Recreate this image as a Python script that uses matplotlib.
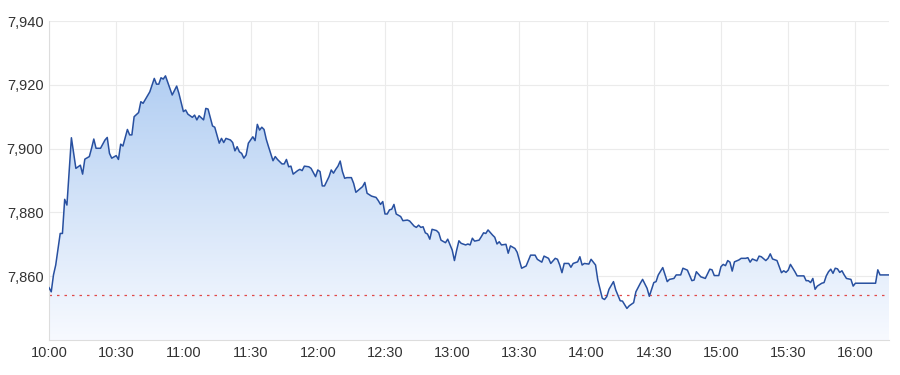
import numpy as np
import matplotlib
matplotlib.use("Agg")
from matplotlib import pyplot as plt
from matplotlib.ticker import FuncFormatter

plt.rcParams['font.family'] = ['Liberation Sans', 'DejaVu Sans']
plt.rcParams['font.size'] = 10.5

# minutes after 10:00 and index level
minutes = [0, 1, 2, 3, 5, 6, 7, 8, 10, 12, 14, 15, 16, 18, 19, 20, 21, 23, 25, 26,
           27, 28, 30, 31, 32, 33, 35, 36, 37, 38, 40, 41, 42, 45, 47, 48, 49, 50, 51, 52,
           55, 57, 58, 60, 61, 62, 64, 65, 66, 67, 69, 70, 71, 73, 74, 76, 77, 78, 79, 81,
           82, 83, 84, 85, 86, 87, 88, 89, 91, 92, 93, 94, 95, 96, 97, 98, 100, 101, 102, 104,
           105, 106, 107, 108, 109, 111, 112, 113, 114, 116, 117, 119, 120, 121, 122, 123, 125, 126, 127, 128,
           129, 130, 131, 132, 133, 135, 136, 137, 140, 141, 142, 144, 146, 147, 148, 149, 150, 151, 152, 153,
           154, 155, 157, 158, 160, 161, 163, 164, 165, 166, 167, 168, 169, 170, 171, 173, 174, 175, 177, 178,
           180, 181, 182, 183, 184, 186, 187, 188, 189, 190, 192, 193, 194, 195, 196, 198, 199, 200, 201, 202,
           204, 205, 206, 208, 209, 211, 213, 214, 215, 217, 218, 220, 221, 223, 224, 226, 227, 228, 229, 230,
           232, 233, 234, 236, 237, 238, 239, 241, 242, 244, 245, 247, 248, 249, 250, 252, 253, 255, 256, 258,
           259, 261, 262, 264, 265, 267, 268, 270, 271, 272, 274, 276, 277, 279, 280, 282, 283, 285, 287, 288,
           289, 291, 293, 295, 296, 297, 299, 300, 301, 302, 303, 304, 305, 306, 308, 309, 311, 312, 313, 314,
           315, 316, 317, 318, 320, 321, 322, 323, 325, 327, 328, 329, 330, 331, 333, 334, 337, 338, 339, 340,
           341, 342, 343, 345, 346, 347, 348, 349, 350, 351, 352, 353, 354, 355, 356, 358, 359, 360, 369, 370,
           371, 375]
level = [7856.4, 7855.1, 7860.4, 7863.5, 7873.4, 7873.4, 7884.1, 7882.3, 7903.4, 7893.8, 7894.8, 7892.0, 7896.7, 7897.5, 7900.1, 7903.0, 7900.1, 7900.1, 7902.7, 7903.5,
         7898.5, 7897.0, 7897.8, 7896.6, 7901.4, 7900.8, 7906.0, 7904.3, 7904.3, 7910.0, 7911.3, 7914.7, 7914.2, 7917.8, 7922.0, 7920.2, 7920.2, 7922.2, 7921.8, 7922.8,
         7916.8, 7919.6, 7917.3, 7911.6, 7912.1, 7910.8, 7909.8, 7910.5, 7909.0, 7910.3, 7909.0, 7912.6, 7912.4, 7907.1, 7906.7, 7901.7, 7903.2, 7901.9, 7903.2, 7902.7,
         7901.9, 7899.3, 7900.6, 7899.0, 7898.5, 7897.0, 7898.0, 7901.7, 7903.7, 7902.5, 7907.6, 7905.8, 7906.7, 7906.0, 7902.9, 7900.6, 7896.2, 7897.5, 7896.6, 7895.2,
         7895.2, 7896.6, 7894.3, 7894.5, 7892.0, 7893.1, 7893.5, 7893.1, 7894.5, 7894.3, 7893.8, 7891.2, 7893.3, 7892.8, 7888.3, 7888.3, 7891.2, 7893.3, 7892.3, 7893.5,
         7894.5, 7896.1, 7892.8, 7890.7, 7890.9, 7890.9, 7889.1, 7886.3, 7888.1, 7889.4, 7886.0, 7885.1, 7884.7, 7883.7, 7882.5, 7883.4, 7879.5, 7879.5, 7880.8, 7881.0,
         7882.5, 7879.5, 7878.7, 7877.4, 7877.6, 7877.3, 7875.7, 7875.3, 7876.0, 7875.3, 7875.5, 7873.6, 7873.2, 7871.6, 7874.7, 7874.3, 7873.6, 7871.3, 7870.5, 7871.6,
         7868.2, 7864.9, 7868.2, 7871.1, 7870.3, 7869.8, 7870.1, 7869.8, 7871.9, 7871.0, 7871.3, 7872.4, 7873.6, 7873.4, 7874.5, 7872.9, 7872.2, 7870.1, 7870.8, 7869.8,
         7870.0, 7867.2, 7869.5, 7868.7, 7867.5, 7862.5, 7863.2, 7864.9, 7866.6, 7866.6, 7865.3, 7864.4, 7866.3, 7865.6, 7864.0, 7865.6, 7865.3, 7863.5, 7861.1, 7864.0,
         7864.0, 7862.8, 7864.0, 7864.5, 7866.1, 7863.5, 7864.0, 7863.8, 7865.3, 7863.5, 7858.8, 7853.1, 7852.7, 7853.6, 7855.9, 7858.3, 7855.7, 7852.3, 7852.2, 7849.9,
         7850.7, 7851.7, 7855.1, 7857.8, 7859.0, 7856.2, 7853.7, 7858.0, 7858.3, 7860.4, 7862.7, 7858.3, 7859.0, 7859.3, 7860.4, 7860.4, 7862.5, 7861.9, 7858.6, 7858.8,
         7861.4, 7859.8, 7859.3, 7862.2, 7862.0, 7860.2, 7860.2, 7863.0, 7863.7, 7863.3, 7864.9, 7864.4, 7861.6, 7864.5, 7865.1, 7865.6, 7865.6, 7865.8, 7864.4, 7865.4,
         7865.1, 7864.8, 7866.3, 7866.1, 7864.9, 7865.6, 7867.0, 7865.4, 7864.9, 7861.1, 7861.7, 7861.2, 7861.9, 7863.7, 7861.4, 7860.1, 7860.1, 7858.6, 7858.6, 7858.0,
         7859.3, 7855.9, 7856.9, 7857.8, 7858.0, 7860.1, 7861.4, 7862.2, 7860.9, 7862.5, 7862.3, 7861.2, 7861.7, 7860.4, 7859.3, 7859.0, 7856.9, 7857.8, 7857.8, 7862.0,
         7860.4, 7860.4]
prev_close = 7854.0

xtick_min = [0, 30, 60, 90, 120, 150, 180, 210, 240, 270, 300, 330, 360]
xtick_lab = ['10:00', '10:30', '11:00', '11:30', '12:00', '12:30', '13:00',
             '13:30', '14:00', '14:30', '15:00', '15:30', '16:00']
yticks = [7860, 7880, 7900, 7920, 7940]

x = np.array(minutes, dtype=float)
y = np.array(level)
ymin, ymax = 7840, 7940

fig = plt.figure(figsize=(9, 3.75), dpi=100)
ax = fig.add_axes([49/900, 1-340/375, 840/900, 319/375])

# gradient fill under the line
poly = ax.fill_between(x, y, ymin, color='none', lw=0)
grad = np.linspace(0, 1, 256)[:, None]
cols = np.zeros((256, 1, 4))
top = np.array([0.70, 0.81, 0.95])
bot = np.array([0.97, 0.98, 1.0])
cols[..., :3] = bot + (top - bot) * grad[..., None]
cols[..., 3] = 1.0
img = ax.imshow(cols, aspect='auto', origin='lower',
                extent=[x.min(), x.max(), ymin, y.max()], zorder=1)
img.set_clip_path(poly.get_paths()[0], transform=ax.transData)

ax.plot(x, y, color='#2850a0', lw=1.1, zorder=3)
ax.axhline(prev_close, color='#e04a4a', lw=0.9, ls=(0, (2, 4)), zorder=2)

ax.set_xlim(0, 375)
ax.set_ylim(ymin, ymax)
ax.set_xticks(xtick_min)
ax.set_xticklabels(xtick_lab)
ax.set_yticks(yticks)
ax.yaxis.set_major_formatter(FuncFormatter(lambda v, p: '{:,.0f}'.format(v)))
ax.tick_params(length=0, labelsize=10.5, labelcolor='#333333', pad=4)
ax.grid(True, color='#ebebeb', lw=0.8, zorder=0)
ax.set_axisbelow(True)
for s in ['top', 'right']:
    ax.spines[s].set_visible(False)
for s in ['left', 'bottom']:
    ax.spines[s].set_color('#dddddd')
    ax.spines[s].set_linewidth(0.8)

fig.savefig('out.png', dpi=100)
